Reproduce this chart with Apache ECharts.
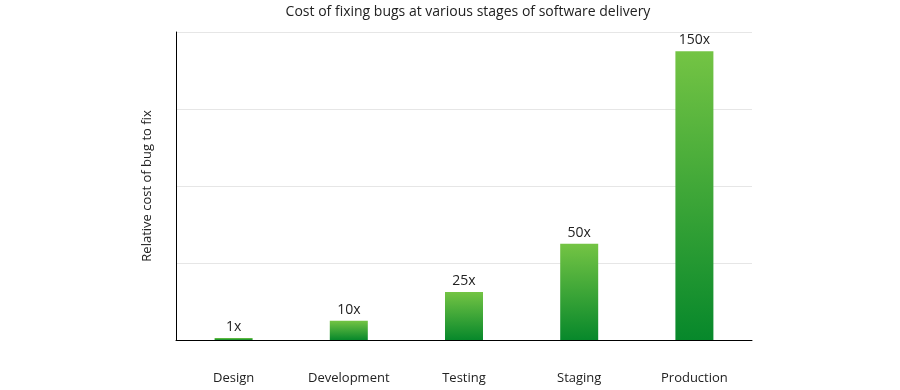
<!DOCTYPE html>
<html><head><meta charset="utf-8">
<script src="https://cdn.jsdelivr.net/npm/echarts@6/dist/echarts.min.js"></script>
<style>html,body{margin:0;padding:0;background:#fff}#c{width:900px;height:390px}</style>
</head><body><div id="c"></div>
<script>
const categories = ["Design", "Development", "Testing", "Staging", "Production"];
const values = [1, 10, 25, 50, 150];
const labels = ["1x", "10x", "25x", "50x", "150x"];

const chart = echarts.init(document.getElementById('c'), null, {renderer: 'canvas'});
const font = "'Open Sans', sans-serif";
chart.setOption({
  animation: false,
  title: {
    text: "Cost of fixing bugs at various stages of software delivery",
    left: 463, top: 0, textAlign: 'center',
    textStyle: {fontFamily: font, fontSize: 14, fontWeight: 'normal', color: '#222'}
  },
  grid: {left: 176, right: 148, top: 32, bottom: 50},
  xAxis: {
    type: 'category', data: categories,
    axisLine: {lineStyle: {color: '#000', width: 1}},
    axisTick: {show: false},
    axisLabel: {margin: 32, fontFamily: font, fontSize: 13, color: '#222'}
  },
  yAxis: {
    type: 'value', min: 0, max: 160, interval: 40,
    name: 'Relative cost of bug to fix', nameLocation: 'middle', nameGap: 22,
    nameTextStyle: {fontFamily: font, fontSize: 13, color: '#222'},
    axisLine: {show: true, lineStyle: {color: '#000', width: 1}},
    axisTick: {show: false},
    axisLabel: {show: false},
    splitLine: {lineStyle: {color: '#e6e6e6'}}
  },
  series: [{
    type: 'bar', data: values, barWidth: 38,
    itemStyle: {color: new echarts.graphic.LinearGradient(0, 0, 0, 1, [
      {offset: 0, color: '#74c444'}, {offset: 1, color: '#07882b'}])},
    label: {show: true, position: 'top', distance: 4,
      formatter: p => labels[p.dataIndex],
      fontFamily: font, fontSize: 14, color: '#222'}
  }]
});
</script></body></html>
